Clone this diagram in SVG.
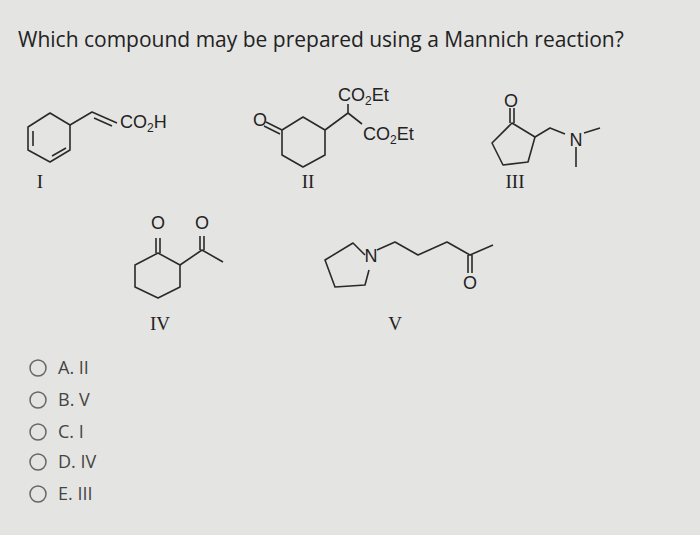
<svg xmlns="http://www.w3.org/2000/svg" width="700" height="535" viewBox="0 0 700 535">
<style>
.b{fill:none;stroke:#2a2a2a;stroke-width:1.6;stroke-linejoin:round}
.t{font-family:"Liberation Sans",Arial,sans-serif;fill:#222;font-size:18px}
.r{font-family:"Liberation Serif","Times New Roman",serif;fill:#222;font-size:19px;text-anchor:middle}
.o{font-family:"Open Sans","Liberation Sans",sans-serif;fill:#444;font-size:18px}
.c{fill:none;stroke:#666;stroke-width:1.5}
</style>
<rect width="700" height="535" fill="#e4e4e2"/>
<text x="18" y="47" font-family="'Open Sans','Liberation Sans',sans-serif" font-size="21" fill="#222">Which compound may be prepared using a Mannich reaction?</text>
<g id="I">
<polygon class="b" points="50,113 70,125 70,150 50,162 28,150 28,127"/>
<path class="b" d="M33,131 V146 M52,156 L66,148 M70,125 L92,112 L117,123 M94,118 L112,126"/>
<text class="t" x="120" y="128">CO<tspan font-size="12" dy="4">2</tspan><tspan dy="-4">H</tspan></text>
<text class="r" x="40" y="188">I</text>
</g>
<g id="II">
<polygon class="b" points="282,130 303,117 325,130 325,155 303,167 282,155"/>
<path class="b" d="M282,130 L266,122 M280,134 L264,126 M325,130 L348,113 L348,104 M348,113 L362,124"/>
<text class="t" x="260" y="126" text-anchor="middle">O</text>
<text class="t" x="338" y="101">CO<tspan font-size="12" dy="4">2</tspan><tspan dy="-4">Et</tspan></text>
<text class="t" x="363" y="140">CO<tspan font-size="12" dy="4">2</tspan><tspan dy="-4">Et</tspan></text>
<text class="r" x="308" y="188">II</text>
</g>
<g id="III">
<polygon class="b" points="512,123 535,137 528,162 503,165 492,143"/>
<path class="b" d="M510,123 V108 M514,123 V108 M535,137 L550,128 L565,134 M584,133 L600,128 M576,147 V167"/>
<text class="t" x="511" y="107" text-anchor="middle">O</text>
<text class="t" x="576" y="146" text-anchor="middle">N</text>
<text class="r" x="515" y="188">III</text>
</g>
<g id="IV">
<polygon class="b" points="158,253 180,265 180,287 158,298 135,287 135,265"/>
<path class="b" d="M156,253 V238 M160,253 V238 M180,265 L202,250 L223,262 M200,250 V236 M204,250 V236"/>
<text class="t" x="158" y="229" text-anchor="middle">O</text>
<text class="t" x="202" y="229" text-anchor="middle">O</text>
<text class="r" x="160" y="330">IV</text>
</g>
<g id="V">
<polyline class="b" points="365,255 353,243 325,260 335,287 365,285 369,270"/>
<path class="b" d="M377,250 L395,242 L418,255 L447,242 L470,255 L493,245 M468,255 V273 M472,255 V273"/>
<text class="t" x="371" y="262" text-anchor="middle">N</text>
<text class="t" x="470" y="289" text-anchor="middle">O</text>
<text class="r" x="395" y="330">V</text>
</g>
<g id="options">
<circle class="c" cx="38" cy="368" r="8"/><text class="o" x="58" y="374">A. II</text>
<circle class="c" cx="38" cy="400" r="8"/><text class="o" x="58" y="406">B. V</text>
<circle class="c" cx="38" cy="432" r="8"/><text class="o" x="58" y="438">C. I</text>
<circle class="c" cx="38" cy="462" r="8"/><text class="o" x="58" y="468">D. IV</text>
<circle class="c" cx="38" cy="494" r="8"/><text class="o" x="58" y="500">E. III</text>
</g>
</svg>
